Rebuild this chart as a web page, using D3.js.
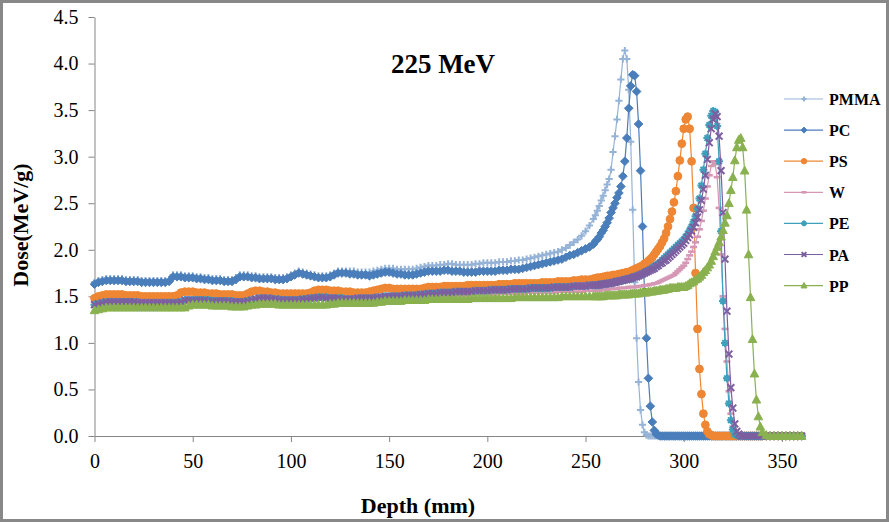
<!DOCTYPE html>
<html>
<head>
<meta charset="utf-8">
<script src="https://cdn.jsdelivr.net/npm/d3@7"></script>
<style>
  body { margin: 0; background: #fff; }
  svg { display: block; }
  text { font-family: "Liberation Serif", "Times New Roman", serif; fill: #000; }
</style>
</head>
<body>
<svg id="chart" width="889" height="522"></svg>
<script>
// depth grid (mm): 2 mm steps on the plateau, 1 mm around the peaks, 2 mm in the tail
const depth = [
  0,2,4,6,8,10,12,14,16,18,20,22,24,26,28,30,
  32,34,36,38,40,42,44,46,48,50,52,54,56,58,60,62,
  64,66,68,70,72,74,76,78,80,82,84,86,88,90,92,94,
  96,98,100,102,104,106,108,110,112,114,116,118,120,122,124,126,
  128,130,132,134,136,138,140,142,144,146,148,150,152,154,156,158,
  160,162,164,166,168,170,172,174,176,178,180,182,184,186,188,190,
  192,194,196,198,200,202,204,206,208,210,212,214,216,218,220,222,
  224,226,228,230,232,234,236,238,240,242,244,246,248,250,252,254,
  255,256,257,258,259,260,261,262,263,264,
  265,266,267,268,269,270,271,272,273,274,
  275,276,277,278,279,280,281,282,283,284,
  285,286,287,288,289,290,291,292,293,294,
  295,296,297,298,299,300,301,302,303,304,
  305,306,307,308,309,310,311,312,313,314,
  315,316,317,318,319,320,321,322,323,324,
  325,326,327,328,329,330,331,332,333,334,
  335,336,337,338,339,340,
  342,344,346,348,350,352,354,356,358,360
];

const pmma = [
  1.65,1.67,1.68,1.69,1.69,1.69,1.69,1.69,1.68,1.68,1.68,1.68,1.67,1.67,1.67,1.67,
  1.67,1.67,1.67,1.68,1.73,1.73,1.73,1.72,1.72,1.72,1.71,1.71,1.70,1.70,1.69,1.69,
  1.69,1.68,1.68,1.68,1.70,1.73,1.73,1.73,1.72,1.72,1.71,1.71,1.71,1.71,1.70,1.70,
  1.70,1.71,1.73,1.75,1.77,1.76,1.75,1.74,1.73,1.72,1.72,1.72,1.73,1.75,1.77,1.77,
  1.77,1.77,1.77,1.76,1.76,1.76,1.76,1.77,1.78,1.79,1.80,1.80,1.80,1.79,1.79,1.79,
  1.79,1.79,1.80,1.81,1.82,1.83,1.83,1.83,1.84,1.84,1.85,1.85,1.84,1.84,1.84,1.84,
  1.84,1.85,1.85,1.86,1.86,1.86,1.86,1.87,1.87,1.87,1.88,1.88,1.89,1.89,1.90,1.91,
  1.92,1.93,1.94,1.95,1.96,1.97,1.98,2.00,2.02,2.05,2.08,2.11,2.15,2.20,2.26,2.33,
  2.37,2.42,2.47,2.53,2.58,2.64,2.70,2.76,2.86,3.05,
  3.22,3.40,3.60,3.83,4.05,4.14,4.05,3.72,3.16,2.43,
  1.65,1.05,0.58,0.28,0.12,0.04,0.01,0,0,0,
  0,0,0,0,0,0,0,0,0,0,
  0,0,0,0,0,0,0,0,0,0,
  0,0,0,0,0,0,0,0,0,0,
  0,0,0,0,0,0,0,0,0,0,
  0,0,0,0,0,0,0,0,0,0,
  0,0,0,0,0,0,
  0,0,0,0,0,0,0,0,0,0
];

const pc = [
  1.63,1.65,1.66,1.67,1.67,1.67,1.67,1.67,1.66,1.66,1.66,1.66,1.65,1.65,1.65,1.65,
  1.65,1.65,1.65,1.66,1.71,1.71,1.71,1.70,1.70,1.70,1.69,1.69,1.68,1.68,1.67,1.67,
  1.67,1.66,1.66,1.66,1.68,1.71,1.71,1.71,1.70,1.70,1.69,1.69,1.69,1.69,1.68,1.68,
  1.68,1.69,1.71,1.73,1.75,1.74,1.73,1.72,1.71,1.70,1.70,1.70,1.71,1.73,1.75,1.75,
  1.75,1.74,1.74,1.73,1.73,1.73,1.72,1.73,1.74,1.75,1.76,1.76,1.75,1.74,1.74,1.73,
  1.73,1.73,1.74,1.75,1.76,1.77,1.77,1.77,1.77,1.78,1.78,1.77,1.77,1.77,1.76,1.76,
  1.76,1.76,1.77,1.77,1.77,1.77,1.77,1.78,1.78,1.78,1.79,1.79,1.79,1.80,1.81,1.82,
  1.83,1.84,1.85,1.86,1.87,1.88,1.89,1.90,1.92,1.94,1.95,1.97,1.99,2.01,2.03,2.06,
  2.09,2.11,2.14,2.18,2.21,2.25,2.29,2.34,2.40,2.45,
  2.50,2.56,2.61,2.68,2.79,2.95,3.20,3.52,3.76,3.88,
  3.87,3.70,3.35,2.85,2.25,1.55,1.05,0.62,0.32,0.15,
  0.06,0.02,0.01,0,0,0,0,0,0,0,
  0,0,0,0,0,0,0,0,0,0,
  0,0,0,0,0,0,0,0,0,0,
  0,0,0,0,0,0,0,0,0,0,
  0,0,0,0,0,0,0,0,0,0,
  0,0,0,0,0,0,
  0,0,0,0,0,0,0,0,0,0
];

const ps = [
  1.48,1.50,1.51,1.52,1.52,1.52,1.52,1.52,1.51,1.51,1.51,1.51,1.50,1.50,1.50,1.50,
  1.50,1.50,1.50,1.50,1.50,1.51,1.54,1.55,1.55,1.55,1.54,1.54,1.54,1.53,1.53,1.53,
  1.52,1.52,1.52,1.52,1.51,1.51,1.51,1.53,1.55,1.56,1.56,1.55,1.55,1.54,1.54,1.53,
  1.53,1.53,1.53,1.53,1.53,1.53,1.53,1.54,1.56,1.57,1.57,1.57,1.56,1.56,1.56,1.55,
  1.55,1.55,1.54,1.54,1.54,1.54,1.55,1.56,1.57,1.58,1.59,1.59,1.58,1.58,1.58,1.58,
  1.58,1.58,1.58,1.58,1.59,1.60,1.60,1.60,1.60,1.61,1.61,1.61,1.61,1.61,1.61,1.62,
  1.62,1.62,1.62,1.62,1.62,1.62,1.62,1.63,1.63,1.63,1.63,1.64,1.64,1.64,1.64,1.64,
  1.64,1.64,1.65,1.65,1.65,1.65,1.66,1.66,1.66,1.66,1.67,1.67,1.68,1.68,1.68,1.69,
  1.69,1.70,1.70,1.70,1.71,1.71,1.72,1.72,1.72,1.73,
  1.73,1.73,1.74,1.74,1.75,1.75,1.76,1.76,1.77,1.78,
  1.79,1.80,1.81,1.82,1.83,1.85,1.86,1.88,1.90,1.92,
  1.95,1.98,2.01,2.04,2.08,2.12,2.18,2.25,2.33,2.41,
  2.51,2.63,2.79,2.96,3.14,3.30,3.40,3.43,3.30,2.95,
  2.45,1.75,1.15,0.72,0.45,0.24,0.12,0.05,0.02,0.01,
  0,0,0,0,0,0,0,0,0,0,
  0,0,0,0,0,0,0,0,0,0,
  0,0,0,0,0,0,
  0,0,0,0,0,0,0,0,0,0
];

const w = [
  1.40,1.41,1.42,1.43,1.43,1.43,1.43,1.43,1.43,1.43,1.43,1.42,1.42,1.42,1.42,1.42,
  1.42,1.42,1.42,1.42,1.42,1.42,1.43,1.45,1.45,1.45,1.45,1.45,1.45,1.44,1.44,1.44,
  1.44,1.44,1.44,1.43,1.43,1.43,1.43,1.44,1.45,1.46,1.47,1.47,1.47,1.46,1.46,1.45,
  1.45,1.45,1.45,1.45,1.45,1.46,1.46,1.47,1.47,1.48,1.48,1.47,1.47,1.47,1.47,1.46,
  1.46,1.46,1.46,1.47,1.47,1.47,1.47,1.47,1.48,1.48,1.49,1.49,1.49,1.49,1.49,1.49,
  1.49,1.49,1.49,1.50,1.50,1.50,1.50,1.50,1.51,1.51,1.51,1.51,1.51,1.51,1.51,1.51,
  1.52,1.52,1.52,1.52,1.52,1.52,1.52,1.53,1.53,1.53,1.53,1.53,1.53,1.53,1.54,1.54,
  1.54,1.54,1.54,1.54,1.54,1.54,1.55,1.55,1.55,1.55,1.55,1.55,1.55,1.56,1.56,1.56,
  1.56,1.56,1.56,1.57,1.57,1.57,1.57,1.58,1.58,1.58,
  1.58,1.58,1.59,1.59,1.59,1.59,1.59,1.60,1.60,1.60,
  1.60,1.60,1.61,1.61,1.61,1.62,1.62,1.62,1.63,1.63,
  1.64,1.64,1.65,1.66,1.67,1.68,1.69,1.70,1.71,1.72,
  1.73,1.75,1.77,1.79,1.81,1.83,1.86,1.90,1.94,1.98,
  2.03,2.08,2.14,2.22,2.31,2.42,2.55,2.68,2.80,2.90,
  2.95,2.92,2.78,2.45,1.95,1.50,1.15,0.80,0.48,0.24,
  0.10,0.03,0.01,0,0,0,0,0,0,0,
  0,0,0,0,0,0,
  0,0,0,0,0,0,0,0,0,0
];

const pe = [
  1.41,1.42,1.43,1.44,1.44,1.44,1.44,1.44,1.44,1.44,1.44,1.44,1.43,1.43,1.43,1.43,
  1.43,1.43,1.43,1.43,1.43,1.43,1.44,1.46,1.46,1.46,1.46,1.46,1.46,1.46,1.45,1.45,
  1.45,1.45,1.45,1.45,1.44,1.44,1.44,1.45,1.46,1.47,1.48,1.48,1.48,1.48,1.47,1.47,
  1.46,1.46,1.46,1.46,1.46,1.47,1.47,1.48,1.48,1.49,1.49,1.49,1.48,1.48,1.48,1.48,
  1.47,1.47,1.47,1.48,1.48,1.48,1.48,1.48,1.49,1.49,1.50,1.50,1.50,1.50,1.50,1.51,
  1.51,1.51,1.51,1.52,1.52,1.53,1.53,1.53,1.54,1.54,1.54,1.54,1.55,1.55,1.55,1.55,
  1.55,1.56,1.56,1.56,1.56,1.57,1.57,1.57,1.57,1.57,1.58,1.58,1.58,1.58,1.58,1.59,
  1.59,1.59,1.59,1.59,1.59,1.60,1.60,1.60,1.60,1.60,1.61,1.61,1.61,1.61,1.62,1.62,
  1.62,1.62,1.62,1.63,1.63,1.63,1.64,1.64,1.64,1.65,
  1.65,1.66,1.66,1.67,1.67,1.68,1.68,1.69,1.69,1.70,
  1.71,1.72,1.72,1.73,1.74,1.76,1.77,1.78,1.79,1.81,
  1.82,1.84,1.85,1.87,1.89,1.91,1.93,1.95,1.97,1.99,
  2.01,2.03,2.05,2.07,2.09,2.11,2.14,2.17,2.21,2.25,
  2.30,2.36,2.44,2.55,2.69,2.86,3.03,3.20,3.34,3.44,
  3.49,3.48,3.33,2.95,2.20,1.45,1.00,0.62,0.35,0.17,
  0.07,0.02,0.01,0,0,0,0,0,0,0,
  0,0,0,0,0,0,
  0,0,0,0,0,0,0,0,0,0
];

const pa = [
  1.41,1.42,1.43,1.44,1.44,1.44,1.44,1.44,1.44,1.44,1.44,1.43,1.43,1.43,1.43,1.43,
  1.43,1.43,1.43,1.43,1.43,1.43,1.44,1.46,1.46,1.46,1.46,1.46,1.46,1.45,1.45,1.45,
  1.45,1.45,1.45,1.44,1.44,1.44,1.44,1.45,1.46,1.47,1.48,1.48,1.48,1.47,1.47,1.46,
  1.46,1.46,1.46,1.46,1.46,1.47,1.47,1.48,1.48,1.49,1.49,1.48,1.48,1.48,1.48,1.47,
  1.47,1.47,1.47,1.48,1.48,1.48,1.48,1.48,1.49,1.49,1.50,1.50,1.50,1.50,1.50,1.51,
  1.51,1.51,1.51,1.52,1.52,1.53,1.53,1.53,1.54,1.54,1.54,1.54,1.55,1.55,1.55,1.55,
  1.55,1.56,1.56,1.56,1.56,1.57,1.57,1.57,1.57,1.57,1.58,1.58,1.58,1.58,1.58,1.59,
  1.59,1.59,1.59,1.59,1.59,1.60,1.60,1.60,1.60,1.60,1.61,1.61,1.61,1.61,1.62,1.62,
  1.62,1.62,1.62,1.63,1.63,1.63,1.64,1.64,1.64,1.65,
  1.65,1.66,1.66,1.67,1.67,1.68,1.68,1.69,1.69,1.70,
  1.71,1.71,1.72,1.73,1.74,1.75,1.76,1.77,1.78,1.79,
  1.80,1.82,1.83,1.85,1.86,1.88,1.89,1.91,1.93,1.95,
  1.97,1.99,2.01,2.03,2.05,2.07,2.10,2.13,2.16,2.20,
  2.24,2.29,2.35,2.43,2.53,2.65,2.80,2.97,3.15,3.30,
  3.40,3.46,3.43,3.22,2.85,2.40,1.90,1.34,0.88,0.52,
  0.30,0.13,0.05,0.02,0,0,0,0,0,0,
  0,0,0,0,0,0,
  0,0,0,0,0,0,0,0,0,0
];

const pp = [
  1.35,1.36,1.37,1.38,1.38,1.38,1.38,1.38,1.38,1.38,1.38,1.38,1.38,1.38,1.38,1.38,
  1.38,1.38,1.38,1.38,1.38,1.38,1.38,1.38,1.40,1.41,1.41,1.41,1.41,1.41,1.40,1.40,
  1.40,1.40,1.40,1.39,1.39,1.39,1.39,1.40,1.41,1.41,1.42,1.42,1.42,1.42,1.42,1.41,
  1.41,1.41,1.41,1.41,1.41,1.41,1.41,1.41,1.41,1.41,1.41,1.41,1.42,1.42,1.43,1.43,
  1.43,1.43,1.43,1.43,1.43,1.43,1.43,1.43,1.44,1.44,1.45,1.45,1.45,1.45,1.45,1.46,
  1.46,1.46,1.46,1.46,1.46,1.47,1.47,1.47,1.47,1.47,1.47,1.47,1.47,1.47,1.47,1.47,
  1.48,1.48,1.48,1.48,1.48,1.48,1.48,1.48,1.48,1.48,1.48,1.49,1.49,1.49,1.49,1.49,
  1.49,1.49,1.49,1.49,1.49,1.49,1.49,1.50,1.50,1.50,1.50,1.50,1.50,1.50,1.50,1.50,
  1.50,1.50,1.50,1.50,1.50,1.51,1.51,1.51,1.51,1.51,
  1.51,1.51,1.52,1.52,1.52,1.52,1.52,1.52,1.53,1.53,
  1.53,1.53,1.53,1.54,1.54,1.54,1.54,1.55,1.55,1.55,
  1.56,1.56,1.56,1.57,1.57,1.57,1.58,1.58,1.59,1.59,
  1.59,1.59,1.60,1.60,1.60,1.60,1.61,1.62,1.64,1.65,
  1.66,1.68,1.69,1.71,1.73,1.76,1.78,1.81,1.84,1.88,
  1.93,1.98,2.03,2.08,2.14,2.21,2.29,2.37,2.50,2.64,
  2.78,2.96,3.10,3.18,3.20,3.10,2.85,2.43,1.95,1.49,
  1.04,0.67,0.39,0.21,0.10,0.04,
  0.01,0,0,0,0,0,0,0,0,0
];

const seriesNames = ["PMMA", "PC", "PS", "W", "PE", "PA", "PP"];
const seriesValues = [pmma, pc, ps, w, pe, pa, pp];
const seriesColors = ["#95b3d7", "#4a7ebb", "#ee8633", "#d597b4", "#3fa0bc", "#7d5fa0", "#8ab150"];
const seriesMarkers = ["plus", "diamond", "circle", "dash", "star", "x", "triangle"];

const xTicks = [0, 50, 100, 150, 200, 250, 300, 350];
const yTicks = [0, 0.5, 1.0, 1.5, 2.0, 2.5, 3.0, 3.5, 4.0, 4.5];

const svg = d3.select("#chart");

const x = d3.scaleLinear().domain([0, 360]).range([94.5, 801.6]);
const y = d3.scaleLinear().domain([0, 4.5]).range([436, 17]);

// outer frame
svg.append("rect")
  .attr("x", 1.5).attr("y", 1.5)
  .attr("width", 886).attr("height", 519)
  .attr("fill", "#fff")
  .attr("stroke", "#888").attr("stroke-width", 3);

function markerPath(type, r) {
  if (type === "diamond") return `M0,${-r}L${r},0L0,${r}L${-r},0Z`;
  if (type === "circle") return d3.symbol(d3.symbolCircle, Math.PI * r * r)();
  if (type === "triangle") return `M0,${-r}L${r * 0.95},${r * 0.75}L${-r * 0.95},${r * 0.75}Z`;
  if (type === "plus") return `M${-r},0H${r}M0,${-r}V${r}`;
  if (type === "x") return `M${-r},${-r}L${r},${r}M${-r},${r}L${r},${-r}`;
  if (type === "star") return `M${-r},0H${r}M0,${-r}V${r}M${-r * 0.7},${-r * 0.7}L${r * 0.7},${r * 0.7}M${-r * 0.7},${r * 0.7}L${r * 0.7},${-r * 0.7}`;
  return `M${-r},0H${r}`; // dash
}
const filled = { diamond: true, circle: true, triangle: true };
const markerR = { plus: 3.6, diamond: 4.3, circle: 3.9, dash: 3.5, star: 4, x: 3.4, triangle: 4.5 };

function styleMarker(sel, type, color) {
  if (filled[type]) sel.attr("fill", color).attr("stroke", color).attr("stroke-width", 1);
  else sel.attr("fill", "none").attr("stroke", color).attr("stroke-width", type === "dash" ? 2.6 : 2);
}

// axes
const gx = svg.append("g").attr("transform", "translate(0,436)")
  .call(d3.axisBottom(x).tickValues(xTicks).tickSize(6).tickSizeOuter(0).tickPadding(12).tickFormat(d3.format("d")));
const gy = svg.append("g").attr("transform", "translate(94.5,0)")
  .call(d3.axisLeft(y).tickValues(yTicks).tickSize(6).tickSizeOuter(0).tickPadding(10).tickFormat(d3.format(".1f")));
[gx, gy].forEach(g => {
  g.selectAll("path, line").attr("stroke", "#868686").attr("stroke-width", 1);
  g.selectAll("text").style("font-size", "20px").style("font-family", "'Liberation Serif', serif").attr("fill", "#000");
});

// series
const line = d3.line().x(d => x(d[0])).y(d => y(d[1]));
seriesNames.forEach((name, i) => {
  const pts = depth.map((d, j) => [d, seriesValues[i][j]]);
  const g = svg.append("g");
  g.append("path").datum(pts)
    .attr("d", line)
    .attr("fill", "none")
    .attr("stroke", seriesColors[i])
    .attr("stroke-width", 1.2);
  const m = g.selectAll("path.m").data(pts).enter().append("path")
    .attr("class", "m")
    .attr("transform", d => `translate(${x(d[0])},${y(d[1])})`)
    .attr("d", markerPath(seriesMarkers[i], markerR[seriesMarkers[i]]));
  styleMarker(m, seriesMarkers[i], seriesColors[i]);
});

// title and axis titles
svg.append("text").attr("x", 443).attr("y", 73)
  .attr("text-anchor", "middle")
  .style("font-size", "27px").style("font-weight", "bold")
  .text("225 MeV");
svg.append("text").attr("x", 418).attr("y", 513)
  .attr("text-anchor", "middle")
  .style("font-size", "22px").style("font-weight", "bold")
  .text("Depth (mm)");
svg.append("text")
  .attr("transform", "translate(28,225) rotate(-90)")
  .attr("text-anchor", "middle")
  .style("font-size", "22px").style("font-weight", "bold")
  .text("Dose(MeV/g)");

// legend
const legend = svg.append("g");
seriesNames.forEach((name, i) => {
  const yy = 99 + i * 31.1;
  legend.append("line")
    .attr("x1", 784).attr("x2", 823).attr("y1", yy).attr("y2", yy)
    .attr("stroke", seriesColors[i]).attr("stroke-width", 1.2);
  const m = legend.append("path")
    .attr("transform", `translate(804,${yy})`)
    .attr("d", markerPath(seriesMarkers[i], markerR[seriesMarkers[i]] * 0.7));
  styleMarker(m, seriesMarkers[i], seriesColors[i]);
  legend.append("text").attr("x", 829).attr("y", yy + 6)
    .style("font-size", "16px").style("font-weight", "bold")
    .text(name);
});
</script>
</body>
</html>
